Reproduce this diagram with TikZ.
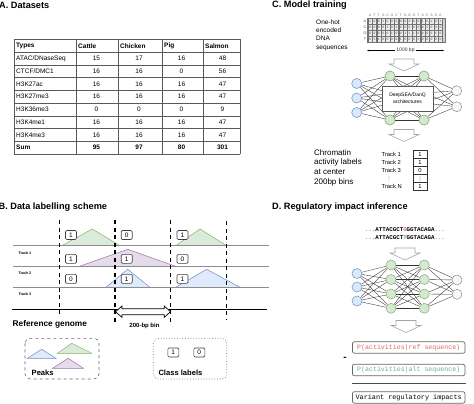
\documentclass[tikz,border=0pt]{standalone}
\usepackage{fontspec}
\setmainfont{Liberation Sans}
\newfontfamily\monof{Liberation Mono}
\newfontfamily\dejavu{DejaVu Sans}
\usetikzlibrary{arrows.meta,backgrounds}
\definecolor{bluef}{HTML}{DAE8FC}
\definecolor{bluel}{HTML}{6C8EBF}
\definecolor{greenf}{HTML}{D5E8D4}
\definecolor{greenl}{HTML}{82B366}
\definecolor{purplef}{HTML}{E1D5E7}
\definecolor{purplel}{HTML}{9673A6}
\definecolor{redt}{HTML}{E06666}
\definecolor{tealt}{HTML}{67AB9F}
\newcommand\fs[1]{\fontsize{#1}{#1}\selectfont}
\newcommand\trow[6]{%
 \node[tc,anchor=west] (n#1) at (16,{39.3+12.75*(#1+0.5)}) {#2};
 \node[tc] (a#1) at (96.5,{39.3+12.75*(#1+0.5)}) {#3};
 \node[tc] (b#1) at (139,{39.3+12.75*(#1+0.5)}) {#4};
 \node[tc] (c#1) at (181.5,{39.3+12.75*(#1+0.5)}) {#5};
 \node[tc] (d#1) at (222.5,{39.3+12.75*(#1+0.5)}) {#6};
}
\tikzset{
 downarr/.pic={\draw[draw=black!35, fill=white, line width=0.6pt] (-10,0) -- (10,0) -- (10,5) -- (15,5) -- (0,12) -- (-15,5) -- (-10,5) -- cycle;}
}
\begin{document}
\begin{tikzpicture}[x=1pt,y=-1pt,
 title/.style={font=\fs{9.2}\bfseries, anchor=west, inner sep=0pt},
 tc/.style={font=\fs{6.5}, inner sep=0pt},
 th/.style={font=\fs{6.5}\bfseries, inner sep=0pt, anchor=west},
 tline/.style={draw=black!65, line width=0.5pt},
 lbl/.style={draw=black!75, rounded corners=1.2pt, fill=white, minimum width=11pt, minimum height=9pt, inner sep=0pt, font=\fs{6.5}, line width=0.6pt},
 nnb/.style={circle, draw=bluel, fill=bluef, minimum size=10pt, inner sep=0pt, line width=0.5pt},
 nng/.style={circle, draw=greenl, fill=greenf, minimum size=10pt, inner sep=0pt, line width=0.5pt},
 nnw/.style={circle, draw=black!45, fill=black!3, minimum size=10pt, inner sep=0pt, line width=0.5pt},
 nnedge/.style={draw=black!80, line width=0.35pt},
 trackline/.style={draw=black!45, line width=1pt},
 vdash/.style={draw=black, line width=1.4pt, dash pattern=on 4pt off 3.5pt},
 greenpk/.style={fill=greenf, draw=greenl, line width=0.5pt, fill opacity=0.85},
 purplepk/.style={fill=purplef, draw=purplel, line width=0.5pt, fill opacity=0.85},
 bluepk/.style={fill=bluef, draw=bluel, line width=0.5pt, fill opacity=0.85},
 dbox/.style={draw=black!60, rounded corners=2pt, line width=0.7pt, minimum width=112.5pt, minimum height=11.5pt, inner sep=0pt, font=\monof\fs{6.6}},
 seqf/.style={font=\monof\bfseries\fs{5.8}, inner sep=0pt},
 bigl/.style={font=\fs{7.6}\bfseries, inner sep=0pt, anchor=west},
 vd/.style={font=\dejavu\fs{5}, inner sep=0pt},
]
\useasboundingbox (0,0) rectangle (474,404);
\begin{pgfonlayer}{background}
\fill[white] (0,0) rectangle (474,404);
\end{pgfonlayer}

% ---------------- A ----------------
\node[title] (tA) at (-1,5.5) {A. Datasets};
\foreach \i in {0,...,9} \draw[tline] (14,{39.3+12.75*\i}) -- (240,{39.3+12.75*\i});
\foreach \xx in {14,76,118,162,203,240} \draw[tline] (\xx,39.3) -- (\xx,154.05);
\node[th] (h0) at (16,45.7) {Types};
\node[th] (h1) at (78,45.7) {Cattle};
\node[th] (h2) at (120,45.7) {Chicken};
\node[th] (h3) at (164,45.7) {Pig};
\node[th] (h4) at (205,45.7) {Salmon};
\trow{1}{ATAC/DNaseSeq}{15}{17}{16}{48}
\trow{2}{CTCF/DMC1}{16}{16}{0}{56}
\trow{3}{H3K27ac}{16}{16}{16}{47}
\trow{4}{H3K27me3}{16}{16}{16}{47}
\trow{5}{H3K36me3}{0}{0}{0}{9}
\trow{6}{H3K4me1}{16}{16}{16}{47}
\trow{7}{H3K4me3}{16}{16}{16}{47}
\trow{8}{\bfseries Sum}{\bfseries 95}{\bfseries 97}{\bfseries 80}{\bfseries 301}

% ---------------- C ----------------
\node[title] (tC) at (272,5.5) {C. Model training};
\node[anchor=north west, align=left, inner sep=0pt, font=\fontsize{6.5}{8.2}\selectfont] (oh) at (316,19.6) {One-hot\\encoded\\DNA\\sequences};
% one-hot matrix
\fill[black!18] (367.5,18) rectangle (445,42);
\foreach \L [count=\k from 0] in {A,T,T,A,C,G,C,T,G,G,G,T,A,C,A,G,A}{
  \node[font=\fs{3.6}, text=black!55, inner sep=0pt] (sq\k) at ({370+4.4*\k},14.8) {\L};
  \foreach \R [count=\r from 0] in {A,C,G,T}{
    \def\dd{0}\ifx\L\R\def\dd{1}\fi
    \node[draw=black!55, line width=0.25pt, fill=black!8, minimum width=4.2pt, minimum height=5.6pt, inner sep=0pt, font=\fs{3.2}, text=black!70] (m\k\r) at ({370+4.4*\k},{21+6*\r}) {\dd};
  }
}
\draw[black!55, line width=0.4pt] (367.5,18) rectangle (445,42);
\foreach \R [count=\r from 0] in {A,C,G,T}
  \node[font=\fs{3.8}, text=black!70, inner sep=0pt] (rl\r) at (365,{21+6*\r}) {\R};
\node[font=\fs{5}, inner sep=1pt, text=black!80] (bp) at (405.5,50.5) {1000 bp};
\coordinate (bpl) at (367,50.5);
\coordinate (bpr) at (444,50.5);
\draw[-{Latex[length=2.2pt,width=2pt]}, line width=0.4pt] (bp.west) -- (bpl);
\draw[-{Latex[length=2.2pt,width=2pt]}, line width=0.4pt] (bp.east) -- (bpr);
\pic at (404,59) {downarr};
% network C
\foreach \y [count=\i] in {83.5,98,112.5} \node[nnb] (ci\i) at (356.7,\y) {};
\foreach \y [count=\i] in {76,93,103,120} \node[nng] (ch\i) at (390,\y) {};
\foreach \y [count=\i] in {76,93,103,120} \node[nng] (ck\i) at (424,\y) {};
\foreach \y [count=\i] in {90.7,106.7} \node[nnw] (co\i) at (456.7,\y) {};
\begin{pgfonlayer}{background}
\foreach \i in {1,2,3} \foreach \j in {1,...,4} \draw[nnedge] (ci\i) -- (ch\j);
\foreach \i in {1,...,4} \foreach \j in {1,...,4} \draw[nnedge] (ch\i) -- (ck\j);
\foreach \i in {1,...,4} \foreach \j in {1,2} \draw[nnedge] (ck\i) -- (co\j);
\end{pgfonlayer}
\node[draw=black!65, fill=white, line width=0.5pt, minimum width=51pt, minimum height=25pt, inner sep=0pt, align=center, font=\fontsize{5}{6.5}\selectfont] (cbox) at (407.5,98.3) {DeepSEA/DanQ\\architectures};
\node[nng] at (390,76) {};
\node[nng] at (390,120) {};
\node[nng] at (424,76) {};
\node[nng] at (424,120) {};
\pic at (404,129.5) {downarr};
\node[anchor=north west, align=left, inner sep=0pt, font=\fontsize{8}{9.7}\selectfont] (chrom) at (314,149.3) {Chromatin\\activity labels\\at center\\200bp bins};
\foreach \t/\y [count=\i] in {Track 1/154.7,Track 2/162.7,Track 3/170.7,Track N/186.7}
  \node[font=\fs{5.8}, inner sep=0pt, anchor=west] (tr\i) at (381.5,\y) {\t};
\node[vd, text=black!80] (trd) at (389,178.7) {⋮};
\foreach \v/\y [count=\i] in {1/154.7,1/162.7,0/170.7,/178.7,1/186.7}
  \node[draw=black!80, line width=0.5pt, minimum width=14pt, minimum height=8pt, inner sep=0pt, font=\fs{5.8}] (cv\i) at (420,\y) {\v};
\node[vd] (cvd) at (420,178.7) {⋮};

% ---------------- B ----------------
\node[title] (tB) at (-1.5,207.3) {B. Data labelling scheme};
% peaks
\draw[greenpk] (61.7,245.7) -- (92.3,229) -- (120,245.7) -- cycle;
\draw[greenpk] (175.7,245.7) -- (200,229) -- (226.7,245.7) -- cycle;
\draw[purplepk] (78.3,266.7) -- (127.7,249.3) -- (176.7,266.7) -- cycle;
\draw[bluepk] (106,287.3) -- (127.7,269.3) -- (150,287.3) -- cycle;
\draw[bluepk] (175.7,287.3) -- (206.7,269.3) -- (240,287.3) -- cycle;
\foreach \y [count=\i] in {245.7,266.7,287.3} \draw[trackline] (13,\y) -- (269,\y);
\foreach \t/\y [count=\i] in {Track 1/252.7,Track 2/273.3,Track 3/294}
  \node[font=\fs{3.7}\bfseries, inner sep=0pt, anchor=west] (bt\i) at (18.3,\y) {\t};
\draw[line width=1.4pt] (12,309.3) -- (267,309.3);
\draw[vdash] (59.3,220) -- (59.3,316);
\draw[vdash] (115,220) -- (115,323);
\draw[vdash] (170.7,220) -- (170.7,323);
\draw[vdash] (226.7,221) -- (226.7,320);
% labels
\foreach \v/\xx/\y [count=\i] in {1/71/235,0/126.7/235,1/182.5/235,1/71/258.8,1/126.7/258.8,0/182.5/258.8,0/71/278.8,1/126.7/278.8,1/182.5/278.8}
  \node[lbl] (bl\i) at (\xx,\y) {\v};
% double arrow
\draw[fill=white, line width=0.7pt, line join=miter] (115.5,311.7) -- (122,306) -- (122,308.7) -- (164.2,308.7) -- (164.2,306) -- (170.5,311.7) -- (164.2,317.4) -- (164.2,314.7) -- (122,314.7) -- (122,317.4) -- cycle;
\node[font=\fs{6}\bfseries, inner sep=0pt] (bin) at (144.5,325.5) {200-bp bin};
\node[font=\fs{8.3}\bfseries, inner sep=0pt, anchor=west] (refg) at (12.5,324.5) {Reference genome};
% legends
\draw[black!60, dashed, line width=0.6pt, rounded corners=5pt] (25,338.3) rectangle (99,379);
\draw[bluepk] (27.3,358.3) -- (41.7,349.3) -- (56,358.3) -- cycle;
\draw[greenpk] (57.3,353.3) -- (71.7,343.3) -- (91.7,353.3) -- cycle;
\draw[purplepk] (52.7,368.3) -- (68.3,358.3) -- (83.3,368.3) -- cycle;
\node[bigl] (pk) at (31.5,373) {Peaks};
\draw[black!60, dotted, line width=0.7pt, rounded corners=5pt] (153.3,338.3) rectangle (226.7,379);
\node[lbl] (cl1) at (173.3,352.5) {1};
\node[lbl] (cl0) at (199.3,352.5) {0};
\node[bigl] (clt) at (158.3,373) {Class labels};

% ---------------- D ----------------
\node[title] (tD) at (272,207.3) {D. Regulatory impact inference};
\node[seqf] (s1) at (405,230) {\textcolor{black!50}{...}ATTACGCT\textcolor{redt}{G}GGTACAGA\textcolor{black!50}{...}};
\node[seqf] (s2) at (405,237.8) {\textcolor{black!50}{...}ATTACGCT\textcolor{tealt}{T}GGTACAGA\textcolor{black!50}{...}};
\pic at (405,248) {downarr};
\foreach \y [count=\i] in {273.5,287,301} \node[nnb] (di\i) at (357,\y) {};
\foreach \y [count=\i] in {265,279.5,294,308.3} \node[nng] (dh\i) at (391,\y) {};
\foreach \y [count=\i] in {265,279.5,294,308.3} \node[nng] (dk\i) at (424.3,\y) {};
\foreach \y [count=\i] in {280,294.3} \node[nnw] (do\i) at (457,\y) {};
\begin{pgfonlayer}{background}
\foreach \i in {1,2,3} \foreach \j in {1,...,4} \draw[nnedge] (di\i) -- (dh\j);
\foreach \i in {1,...,4} \foreach \j in {1,...,4} \draw[nnedge] (dh\i) -- (dk\j);
\foreach \i in {1,...,4} \foreach \j in {1,2} \draw[nnedge] (dk\i) -- (do\j);
\end{pgfonlayer}
\pic at (406,320.5) {downarr};
\node[dbox, text=redt] (pref) at (408.7,347.5) {P(activities|ref sequence)};
\node[dbox, text=tealt] (palt) at (408.7,370) {P(activities|alt sequence)};
\node[font=\fs{10}\bfseries, inner sep=0pt] (minus) at (345,358.5) {-};
\coordinate (hl1) at (352,383.3);
\coordinate (hl2) at (466,383.3);
\draw[black!70, line width=0.6pt] (hl1) -- (hl2);
\node[dbox, font=\monof\fs{6.8}] (pvar) at (408.7,397.4) {Variant regulatory impacts};
\end{tikzpicture}
\end{document}
